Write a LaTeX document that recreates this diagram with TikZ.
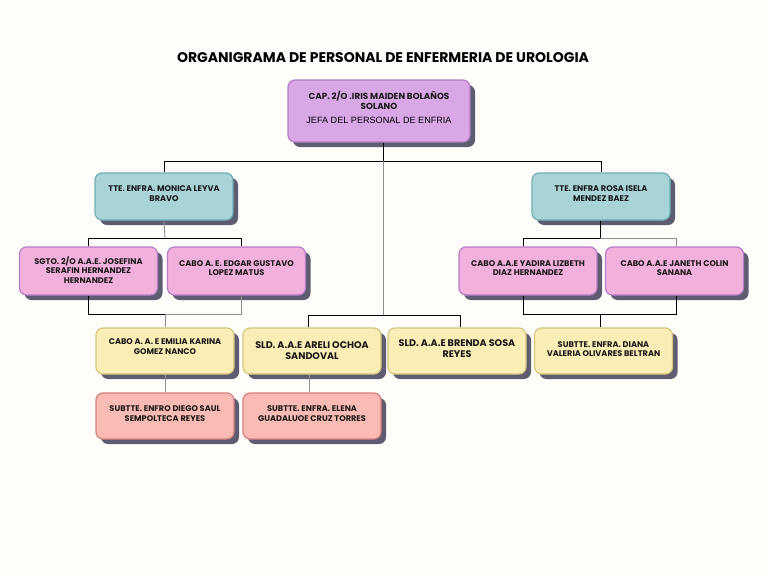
\documentclass[tikz,border=0pt]{standalone}
\usepackage{fontspec}
\setmainfont{Poppins}
\newfontfamily\arim{Liberation Sans}
\usetikzlibrary{shadows}
\definecolor{bg}{HTML}{FEFDF9}
\definecolor{shd}{HTML}{5D5C70}
\definecolor{purF}{HTML}{D9A6E6}
\definecolor{purD}{HTML}{B47CC7}
\definecolor{teaF}{HTML}{A9D4D7}
\definecolor{teaD}{HTML}{6DB0B5}
\definecolor{pinF}{HTML}{F2B1DD}
\definecolor{pinD}{HTML}{B77BC8}
\definecolor{yelF}{HTML}{FAEDB6}
\definecolor{yelD}{HTML}{D6C67E}
\definecolor{salF}{HTML}{FBBBB5}
\definecolor{salD}{HTML}{D5807A}
\definecolor{lgray}{HTML}{8E8E8E}
\tikzset{
  base/.style={rectangle, rounded corners=7pt, line width=1.2pt, inner sep=0pt,
    minimum width=138pt, minimum height=47pt,
    drop shadow={shadow xshift=5pt, shadow yshift=-5pt, fill=shd, opacity=1}},
  purbox/.style={base, fill=purF, draw=purD, minimum width=182pt, minimum height=62pt},
  teabox/.style={base, fill=teaF, draw=teaD},
  pinbox/.style={base, fill=pinF, draw=pinD, minimum height=48pt},
  yelbox/.style={base, fill=yelF, draw=yelD, minimum height=46pt},
  salbox/.style={base, fill=salF, draw=salD, minimum height=46pt},
  txt/.style={align=center, font=\bfseries\fontsize{8.2}{9.4}\selectfont, inner sep=0pt, text=black!90},
  bigtxt/.style={font=\bfseries\fontsize{9.6}{11}\selectfont},
  conn/.style={line width=0.8pt, black},
  connG/.style={line width=0.9pt, lgray},
}
\newcommand\obox[7][]{\node[#3] (#2) at (#4,#5) {};
  \node[txt,#1] (#2-t) at ([yshift=#6]#2.center) {#7};}
\begin{document}
\begin{tikzpicture}[x=1pt,y=-1pt]
\fill[bg] (0,0) rectangle (768,576);
\useasboundingbox (0,0) rectangle (768,576);
\node[font=\bfseries\fontsize{14}{16}\selectfont] (title) at (383,58) {ORGANIGRAMA DE PERSONAL DE ENFERMERIA DE UROLOGIA};

% coordinates of buses
\coordinate (bus0) at (383,161);
\coordinate (busL) at (165,238);
\coordinate (busR) at (600,238);
\coordinate (busC) at (383,315);
\coordinate (busL2) at (165,314);
\coordinate (busR2) at (600,314);

% boxes
\node[purbox] (top) at (379,111) {};
\node[txt, font=\bfseries\fontsize{8.8}{10}\selectfont] (top-t) at (379,100) {CAP. 2/O .IRIS MAIDEN BOLAÑOS\\SOLANO};
\node[font=\arim\fontsize{9.1}{10}\selectfont, inner sep=0pt] (top-s) at (379,120) {JEFA DEL PERSONAL DE ENFRIA};

\obox{tteL}{teabox}{164}{196.5}{3pt}{TTE. ENFRA. MONICA LEYVA\\BRAVO}
\obox{tteR}{teabox}{601}{196.5}{3pt}{TTE. ENFRA ROSA ISELA\\MENDEZ BAEZ}

\obox{sgto}{pinbox}{88.5}{271}{1pt}{SGTO. 2/O A.A.E. JOSEFINA\\SERAFIN HERNANDEZ\\HERNANDEZ}
\obox{edgar}{pinbox}{236.5}{271}{3pt}{CABO A. E. EDGAR GUSTAVO\\LOPEZ MATUS}
\obox{yadira}{pinbox}{528}{271}{3pt}{CABO A.A.E YADIRA LIZBETH\\DIAZ HERNANDEZ}
\obox{janeth}{pinbox}{674.5}{271}{3pt}{CABO A.A.E JANETH COLIN\\SANANA}

\obox{emilia}{yelbox}{165}{351}{4.5pt}{CABO A. A. E EMILIA KARINA\\GOMEZ NANCO}
\obox[bigtxt]{areli}{yelbox}{312}{351}{0pt}{SLD. A.A.E ARELI OCHOA\\SANDOVAL}
\obox[bigtxt]{brenda}{yelbox}{457}{351}{2pt}{SLD. A.A.E BRENDA SOSA\\REYES}
\obox{diana}{yelbox}{603.5}{351}{2pt}{SUBTTE. ENFRA. DIANA\\VALERIA OLIVARES BELTRAN}

\obox{diego}{salbox}{165}{416}{2.5pt}{SUBTTE. ENFRO DIEGO SAUL\\SEMPOLTECA REYES}
\obox{elena}{salbox}{312}{416}{2.5pt}{SUBTTE. ENFRA. ELENA\\GUADALUOE CRUZ TORRES}

% connectors
\draw[conn] ([xshift=4pt]top.south) -- (bus0);
\draw[conn] (tteL.north) |- (bus0);
\draw[conn] (tteR.north) |- (bus0);
\draw[connG] (bus0) -- (busC);
\draw[conn] ([xshift=-4pt]areli.north) |- (busC);
\draw[conn] ([xshift=3pt]brenda.north) |- (busC);

\draw[connG] (tteL.south) -- (busL);
\draw[conn] (sgto.north) |- (busL);
\draw[conn] ([xshift=4.5pt]edgar.north) |- (busL);

\draw[conn] ([xshift=-1pt]tteR.south) -- (busR);
\draw[conn] ([xshift=-5pt]yadira.north) |- (busR);
\draw[connG] ([xshift=2pt]janeth.north) |- (busR);

\draw[conn] (sgto.south) |- (busL2);
\draw[connG] ([xshift=4.5pt]edgar.south) |- (busL2);
\draw[connG] (busL2) -- (emilia.north);

\draw[conn] ([xshift=-5pt]yadira.south) |- (busR2);
\draw[conn] ([xshift=2pt]janeth.south) |- (busR2);
\draw[conn] (busR2) -- ([xshift=-3.5pt]diana.north);

\draw[connG] (emilia.south) -- (diego.north);
\draw[connG] ([xshift=-3pt]areli.south) -- ([xshift=-3pt]elena.north);
\end{tikzpicture}
\end{document}
